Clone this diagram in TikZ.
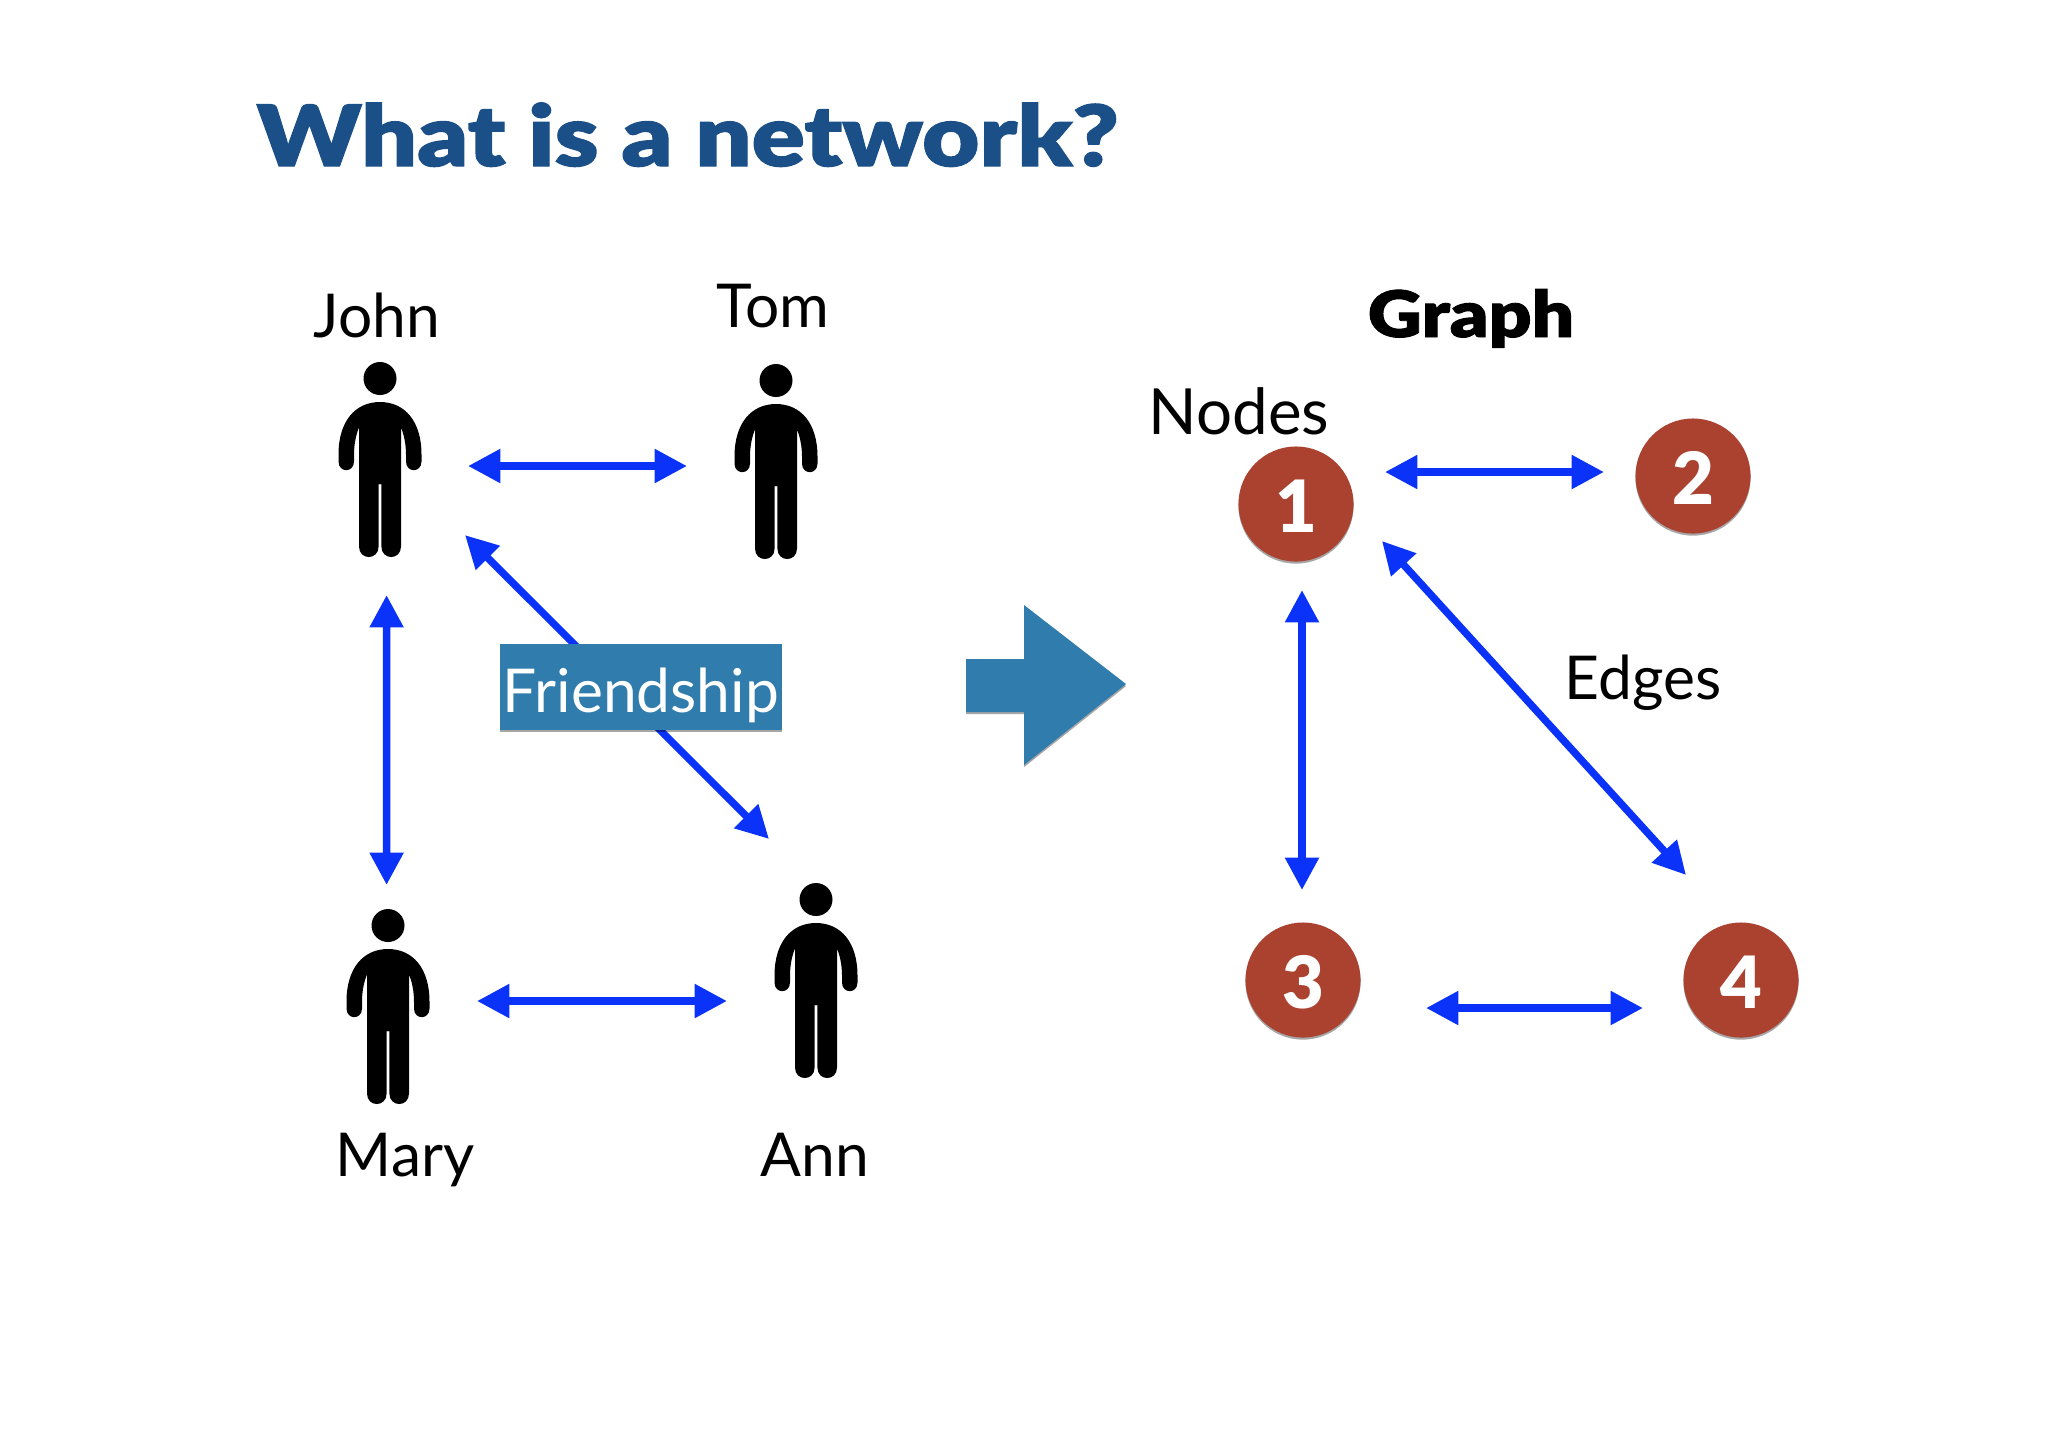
\documentclass[tikz,border=0pt]{standalone}
\usepackage{fontspec}
\setmainfont{Lato}
\newfontfamily\blackfont[FakeStretch=1.17,FakeBold=1.5]{Lato Black}
\newfontfamily\digitfont{Lato Black}
\usetikzlibrary{arrows.meta,positioning,calc,shadows}
\definecolor{linkblue}{RGB}{10,50,248}
\definecolor{boxblue}{RGB}{48,124,172}
\definecolor{titleblue}{RGB}{27,79,135}
\definecolor{noderust}{RGB}{171,66,48}
\tikzset{
  link/.style={draw=linkblue,line width=2.1pt,{Triangle[length=9.2pt,width=9.2pt]}-{Triangle[length=9.2pt,width=9.2pt]}},
  softshadow/.style={drop shadow={shadow xshift=0pt,shadow yshift=-0.6pt,opacity=.35,fill=black}},
  label/.style={anchor=base,inner sep=0pt,font=\fontsize{17.2}{22}\selectfont},
  body/.style={minimum width=0.83cm,minimum height=1.95cm,inner sep=0pt,outer sep=0pt},
  numbered/.style={circle,fill=noderust,minimum size=1.15cm,inner sep=0pt,outer sep=0pt,softshadow,text=white,text height=0.56cm,text depth=0cm,font=\digitfont\fontsize{20.5}{22}\selectfont},
  person/.pic={
    \fill (0,-81) circle (16.5);
    \foreach \s in {1,-1}
      \fill[xscale=\s] (-1,-57.5) -- (0,-57.5) .. controls (25,-57.5) and (41.5,-38) .. (41.5,-5)
        -- (41.5,2) .. controls (41.5,13.5) and (26,13.5) .. (26,2) -- (26,-5)
        .. controls (26,-15) and (24,-25) .. (21,-32) -- (21,87)
        .. controls (21,101) and (1.4,101) .. (1.4,87) -- (1.4,24.5) -- (-1,24.5) -- cycle;
  }
}
\begin{document}
\begin{tikzpicture}[x=0.01cm,y=-0.01cm]
\useasboundingbox (0,0) rectangle (2048,1447);
\node[anchor=base west,inner sep=0pt,text=titleblue,font=\blackfont\fontsize{24}{28}\selectfont] (title) at (256,166) {What is a network?};
% people
\node[body] (john) at (380,459.5) {};
\node[body] (tom) at (776,461.5) {};
\node[body] (mary) at (388,1006.5) {};
\node[body] (ann) at (816,980.5) {};
\pic at (john) {person};
\pic at (tom) {person};
\pic at (mary) {person};
\pic at (ann) {person};
\node[label] (johnname) at (377,337) {John};
\node[label] (tomname) at (773,327) {Tom};
\node[label] (maryname) at (405,1176) {Mary};
\node[label] (annname) at (815,1176) {Ann};
\draw[link] ([shift={(46.5,6.5)}]john.east)--([shift={(-47.5,4.5)}]tom.west);
\draw[link] ([shift={(6.6,38)}]john.south)--([shift={(-1.4,-24)}]mary.north);
\draw[link] ([shift={(43.5,-22)}]john.south east)--([shift={(-47,-44)}]ann.north);
\draw[link] ([shift={(47.5,-5.5)}]mary.east)--([shift={(-47.5,20.5)}]ann.west);
\node[fill=boxblue,text=white,minimum width=2.82cm,minimum height=0.86cm,inner sep=0pt,text height=0.6cm,text depth=0.1cm,softshadow,font=\fontsize{17.2}{22}\selectfont] (friend) at (641,687) {Friendship};
% big arrow
\fill[boxblue,softshadow] (966,659) -- (1024,659) -- (1024,605) -- (1126,684) -- (1024,765) -- (1024,712) -- (966,712) -- cycle;
% graph
\node[label,font=\blackfont\fontsize{18.2}{22}\selectfont] (graph) at (1471,337) {Graph};
\node[label,font=\fontsize{18.1}{22}\selectfont] (nodes) at (1239,434) {Nodes};
\node[label] (edges) at (1643,699) {Edges};
\node[numbered] (n1) at (1296,504) {1};
\node[numbered] (n2) at (1693,476) {2};
\node[numbered] (n3) at (1303,980) {3};
\node[numbered] (n4) at (1741,980) {4};
\draw[link] ([shift={(31.5,-32)}]n1.east)--([shift={(-31.5,-4)}]n2.west);
\draw[link] ([shift={(6,28.5)}]n1.south)--([shift={(-1,-32.5)}]n3.north);
\draw[link] ([shift={(45.3,-3.7)}]n1.south east)--([shift={(-55,-47.5)}]n4.north);
\draw[link] ([shift={(65.5,28)}]n3.east)--([shift={(-40.5,28)}]n4.west);
\end{tikzpicture}
\end{document}
